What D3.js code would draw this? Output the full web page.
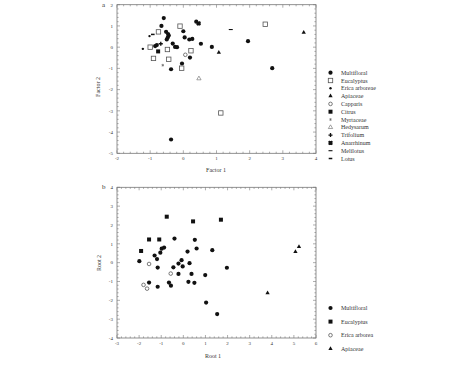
<!DOCTYPE html>
<html><head><meta charset="utf-8">
<script src="https://cdn.jsdelivr.net/npm/d3@7"></script>
<style>body{margin:0;background:#fff}svg{display:block}text{font-family:"Liberation Serif","Times New Roman",serif;fill:#333}</style>
</head><body><svg id="c" width="474" height="365"></svg>
<script>
// ---- Panel a data (Factor 1, Factor 2) ----
const multifloralA = [[-0.59,1.37],[-0.66,1.0],[-0.52,0.72],[-0.46,0.62],[-0.44,0.55],[-0.47,0.45],[-0.5,0.36],[0.0,0.75],[0.04,0.46],[0.18,0.36],[0.27,0.39],[0.53,0.16],[0.86,0.01],[1.95,0.28],[2.68,-0.99],[0.2,-0.49],[-0.04,-0.77],[-0.37,-1.04],[-0.32,0.17],[-0.25,0.01],[-0.19,0.0],[-0.8,0.1],[-0.85,0.05],[-0.37,-4.35],[0.39,1.2]];
const eucalyptusA = [[-0.1,0.99],[-0.75,0.72],[-1.0,0.0],[-0.48,-0.11],[-0.9,-0.53],[-0.44,-0.57],[0.23,-0.17],[-0.05,-0.99],[2.47,1.08],[1.13,-3.1]];
const ericaA = [[-1.22,-0.08],[-1.02,0.52]];
const apiaceaeA = [[3.63,0.69],[1.07,-0.25]];
const capparisA = [[0.06,-0.36]];
const citrusA = [[-0.76,-0.2]];
const myrtaceaeA = [[-0.62,-0.85]];
const hedysarumA = [[0.47,-1.48]];
const trifoliumA = [[-0.68,0.16]];
const anarrhinumA = [[0.46,1.12]];
const melilotusA = [[1.43,0.83]];
const lotusA = [[-0.92,0.6]];
const legendA = ["Multifloral","Eucalyptus","Erica arboreae","Apiaceae","Capparis","Citrus","Myrtaceae","Hedysarum","Trifolium","Anarrhinum","Melilotus","Lotus"];
const xTicksA = [-2,-1,0,1,2,3,4];
const yTicksA = [2,1,0,-1,-2,-3,-4,-5];

// ---- Panel b data (Root 1, Root 2) ----
const multifloralB = [[-0.4,1.28],[0.52,1.21],[0.6,0.75],[0.19,0.59],[1.31,0.66],[-0.98,0.74],[-0.87,0.8],[-1.04,0.53],[-1.3,0.38],[-1.19,0.19],[-1.99,0.08],[-1.16,-0.26],[-0.45,-0.25],[-0.22,-0.05],[-0.08,0.13],[-0.03,-0.2],[0.28,-0.03],[1.97,-0.27],[-0.22,-0.6],[0.37,-0.6],[0.99,-0.66],[-1.55,-1.06],[-1.16,-1.28],[-0.65,-1.06],[-0.56,-1.22],[0.23,-1.02],[0.5,-1.07],[1.03,-2.12],[1.53,-2.73]];
const eucalyptusB = [[-0.75,2.44],[0.44,2.19],[1.7,2.28],[-1.55,1.23],[-1.09,1.23],[-1.91,0.62]];
const ericaB = [[-1.55,-0.07],[-0.57,-0.58],[-1.8,-1.18],[-1.64,-1.38]];
const apiaceaeB = [[5.07,0.58],[5.23,0.85],[3.81,-1.61]];
const legendB = ["Multifloral","Eucalyptus","Erica arborea","Apiaceae"];
const xTicksB = [-3,-2,-1,0,1,2,3,4,5,6];
const yTicksB = [4,3,2,1,0,-1,-2,-3,-4];

const svg = d3.select("#c");
const INK = "#111";

function drawMarker(g, type, x, y) {
  const sym = (t, s) => d3.symbol().type(t).size(s)();
  switch (type) {
    case "fcircle": g.append("circle").attr("cx",x).attr("cy",y).attr("r",2.1).attr("fill",INK); break;
    case "osquare": g.append("rect").attr("x",x-2.2).attr("y",y-2.2).attr("width",4.4).attr("height",4.4).attr("fill","#fff").attr("stroke","#555").attr("stroke-width",0.8); break;
    case "dot": g.append("circle").attr("cx",x).attr("cy",y).attr("r",1.2).attr("fill",INK); break;
    case "ftri": g.append("path").attr("d",sym(d3.symbolTriangle,8)).attr("transform",`translate(${x},${y})`).attr("fill",INK); break;
    case "ocircle": g.append("circle").attr("cx",x).attr("cy",y).attr("r",1.8).attr("fill","#fff").attr("stroke","#444").attr("stroke-width",0.7); break;
    case "fsquare": g.append("rect").attr("x",x-2).attr("y",y-2).attr("width",4).attr("height",4).attr("fill",INK); break;
    case "star": g.append("path").attr("d",sym(d3.symbolAsterisk,5)).attr("transform",`translate(${x},${y})`).attr("fill","none").attr("stroke","#666").attr("stroke-width",0.7); break;
    case "otri": g.append("path").attr("d",sym(d3.symbolTriangle,8)).attr("transform",`translate(${x},${y})`).attr("fill","#fff").attr("stroke","#666").attr("stroke-width",0.6); break;
    case "cross": g.append("path").attr("d",sym(d3.symbolCross,9)).attr("transform",`translate(${x},${y})`).attr("fill",INK); break;
    case "spike": g.append("circle").attr("cx",x).attr("cy",y).attr("r",2.0).attr("fill",INK);
                  g.append("path").attr("d",sym(d3.symbolCross,14)).attr("transform",`translate(${x},${y}) rotate(45)`).attr("fill",INK); break;
    case "dash": g.append("line").attr("x1",x-2).attr("x2",x+2).attr("y1",y).attr("y2",y).attr("stroke",INK).attr("stroke-width",1.1); break;
    case "dashB": g.append("line").attr("x1",x-1.8).attr("x2",x+1.8).attr("y1",y).attr("y2",y).attr("stroke",INK).attr("stroke-width",1.5); break;
  }
}

function frame(x, y, xt, yt, xMinorStep, yMinorStep) {
  const g = svg.append("g");
  const [x0,x1] = x.range(), [y0,y1] = y.range();
  g.append("rect").attr("x",x0).attr("y",y1).attr("width",x1-x0).attr("height",y0-y1)
    .attr("fill","none").attr("stroke","#777").attr("stroke-width",0.8);
  const xd = x.domain(), yd = y.domain();
  const tickStroke = "#777";
  const xm = d3.range(xd[0], xd[1]+1e-9, xMinorStep);
  const ym = d3.range(yd[0], yd[1]+1e-9, yMinorStep);
  xm.forEach(v => {
    const px = x(v), major = xt.includes(Math.round(v*1000)/1000);
    const L = major ? 3 : 1.6;
    g.append("line").attr("x1",px).attr("x2",px).attr("y1",y0).attr("y2",y0-L).attr("stroke",tickStroke).attr("stroke-width",0.6);
    g.append("line").attr("x1",px).attr("x2",px).attr("y1",y1).attr("y2",y1+L).attr("stroke",tickStroke).attr("stroke-width",0.6);
  });
  ym.forEach(v => {
    const py = y(v), major = yt.includes(Math.round(v*1000)/1000);
    const L = major ? 3 : 1.6;
    g.append("line").attr("x1",x0).attr("x2",x0+L).attr("y1",py).attr("y2",py).attr("stroke",tickStroke).attr("stroke-width",0.6);
    g.append("line").attr("x1",x1).attr("x2",x1-L).attr("y1",py).attr("y2",py).attr("stroke",tickStroke).attr("stroke-width",0.6);
  });
  xt.forEach(v => g.append("text").attr("x",x(v)).attr("y",y0+7).attr("text-anchor","middle").attr("font-size",5).text(v));
  yt.forEach(v => g.append("text").attr("x",x0-4).attr("y",y(v)+1.8).attr("text-anchor","end").attr("font-size",5).text(v));
}

// ---- Panel a ----
const xA = d3.scaleLinear().domain([-2,4]).range([117,316]);
const yA = d3.scaleLinear().domain([-5,2]).range([153.3,4.7]);
frame(xA, yA, xTicksA, yTicksA, 0.2, 0.2);
const seriesA = [
  [multifloralA,"fcircle"],[eucalyptusA,"osquare"],[ericaA,"dot"],[apiaceaeA,"ftri"],
  [capparisA,"ocircle"],[citrusA,"fsquare"],[myrtaceaeA,"star"],[hedysarumA,"otri"],
  [trifoliumA,"cross"],[anarrhinumA,"spike"],[melilotusA,"dash"],[lotusA,"dashB"]];
const gA = svg.append("g");
seriesA.forEach(([pts,t]) => pts.forEach(p => drawMarker(gA, t, xA(p[0]), yA(p[1]))));
svg.append("text").attr("x",102).attr("y",7).attr("font-size",7).text("a");
svg.append("text").attr("x",216).attr("y",172).attr("text-anchor","middle").attr("font-size",6).text("Factor 1");
svg.append("text").attr("transform","translate(100,87) rotate(-90)").attr("text-anchor","middle").attr("font-size",6).text("Factor 2");
const legA = svg.append("g");
legendA.forEach((name,i) => {
  const yy = 72.7 + i*7.8;
  drawMarker(legA, seriesA[i][1], 330.5, yy);
  legA.append("text").attr("x",341).attr("y",yy+2).attr("font-size",6).text(name);
});

// ---- Panel b ----
const xB = d3.scaleLinear().domain([-3,6]).range([117,316]);
const yB = d3.scaleLinear().domain([-4,4]).range([338,187.3]);
frame(xB, yB, xTicksB, yTicksB, 0.2, 0.2);
const seriesB = [[multifloralB,"fcircle"],[eucalyptusB,"fsquare"],[ericaB,"ocircle"],[apiaceaeB,"ftri"]];
const gB = svg.append("g");
seriesB.forEach(([pts,t]) => pts.forEach(p => drawMarker(gB, t, xB(p[0]), yB(p[1]))));
svg.append("text").attr("x",102).attr("y",189).attr("font-size",7).text("b");
svg.append("text").attr("x",213).attr("y",358).attr("text-anchor","middle").attr("font-size",6).text("Root 1");
svg.append("text").attr("transform","translate(101,263) rotate(-90)").attr("text-anchor","middle").attr("font-size",6).text("Root 2");
const legB = svg.append("g");
legendB.forEach((name,i) => {
  const yy = 308 + i*13.6;
  drawMarker(legB, seriesB[i][1], 330.5, yy);
  legB.append("text").attr("x",341).attr("y",yy+2).attr("font-size",6).text(name);
});
</script></body></html>
